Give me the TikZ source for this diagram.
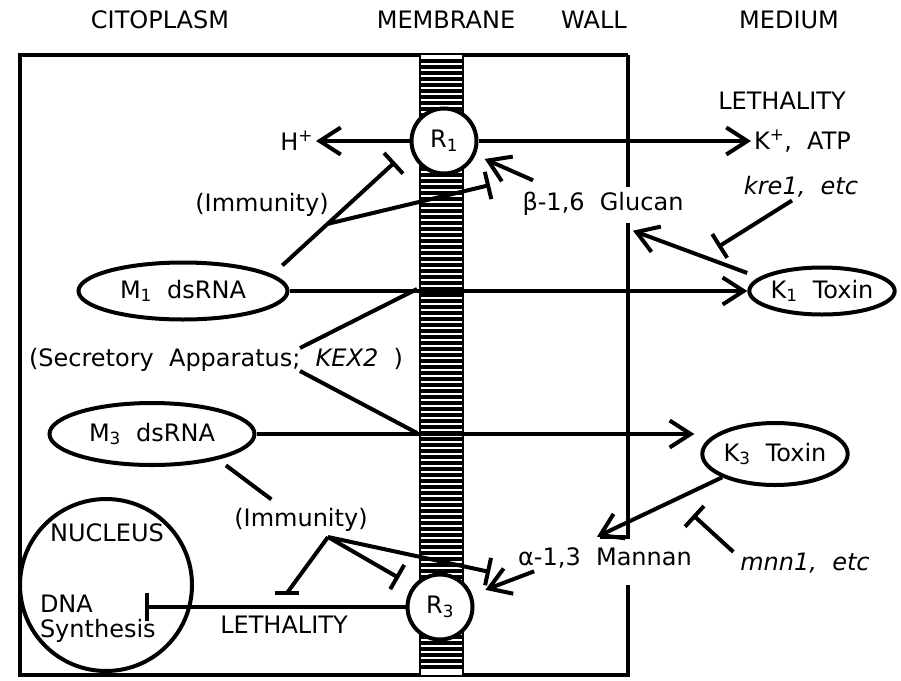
\documentclass[tikz,border=0pt]{standalone}
\usepackage{fontspec}
\setmainfont{DejaVu Sans}
\usetikzlibrary{arrows.meta,calc,positioning,shapes.geometric}

\begin{document}
\begin{tikzpicture}[x=1pt,y=-1pt,line width=4pt,
  every node/.style={font=\fontsize{24}{28}\selectfont,inner sep=1pt},
  arr/.style={-{Straight Barb[length=21pt,width=27pt]}},
  inh/.style={-{Bar[width=28pt]}},
  blob/.style={draw,ellipse,inner sep=0pt},
  recep/.style={draw,circle,fill=white,inner sep=0pt,minimum size=65pt}]
  \useasboundingbox (0,0) rectangle (901,680);
  % cell outline; the wall is broken where the polysaccharides sit
  \draw (628,55) -- (20,55) -- (20,675) -- (628,675) -- (628,585);
  \draw (628,55) -- (628,187);
  \draw (628,223) -- (628,537) -- (600,537);
  % membrane band
  \fill[white] (420,55) rectangle (463,675);
  \foreach \hy in {61,67,...,672} \draw[line width=3.4pt] (420,\hy) -- (463,\hy);
  \draw[line width=2.5pt] (420,55) -- (420,675) (463,55) -- (463,675);
  % headings
  \node (cito) at (160,20) {CITOPLASM};
  \node (memb) at (446,20) {MEMBRANE};
  \node (wall) at (594,20) {WALL};
  \node (medium) at (789,20) {MEDIUM};
  % receptors and labels
  \node[recep] (R1) at (444,141) {R\textsubscript{1}};
  \node[recep] (R3) at (440,607) {R\textsubscript{3}};
  \node[anchor=east] (hplus) at (316,141) {H\textsuperscript{+}};
  \node[anchor=west] (katp) at (751,141) {K\textsuperscript{+},\ \ ATP};
  \node (leth1) at (782,101) {LETHALITY};
  \node (kre) at (801,187) {\itshape kre1,\ \ etc};
  \node (glucan) at (603,204) {β-1,6\ \ Glucan};
  \node (imm1) at (262,205) {(Immunity)};
  \node[blob,minimum width=209pt,minimum height=57pt] (M1) at (183,291) {M\textsubscript{1}\ \ dsRNA};
  \node (secr) at (216,360) {(Secretory\ \ Apparatus;\ \ \textit{KEX2}\ \ )};
  \node[blob,minimum width=205pt,minimum height=62pt] (M3) at (152,434) {M\textsubscript{3}\ \ dsRNA};
  \node[blob,minimum width=141pt,minimum height=47pt] (K1) at (822,291) {K\textsubscript{1}\ \ Toxin};
  \node[blob,minimum width=140pt,minimum height=62pt] (K3) at (775,454) {K\textsubscript{3}\ \ Toxin};
  \node (mannan) at (605,558) {α-1,3\ \ Mannan};
  \node (mnn) at (805,563) {\itshape mnn1,\ \ etc};
  \node (imm2) at (301,520) {(Immunity)};
  \node (leth2) at (284,625) {LETHALITY};
  \node[draw,circle,minimum size=172pt,inner sep=0pt] (nucleus) at (106,585) {};
  \node (nuctext) at (107,533) {NUCLEUS};
  \node[align=left,anchor=west,font=\fontsize{24}{25}\selectfont] (dna) at (37,619) {DNA\\Synthesis};
  % junctions and blocked points
  \coordinate (j1) at (327,224);
  \coordinate (j2) at (328,537);
  \coordinate (r1block) at (395,162);
  \coordinate (glblock) at (490,185);
  \coordinate (k1block) at (718,247);
  \coordinate (mnblock) at (693,515);
  \coordinate (r3block) at (399,578);
  \coordinate (mrblock) at (490,572);
  \coordinate (lethblock) at (287,593);
  \coordinate (dnablock) at (145,607);
  \coordinate (sec1) at (417,289);
  \coordinate (sec2) at (417,433);
  % top half
  \draw[arr] (R1.west) -- (R1.west -| hplus.east);
  \draw[arr] (R1.east) -- (R1.east -| katp.west);
  \draw[arr,shorten >=10pt] ([xshift=-70pt,yshift=9pt]glucan.north) -- (R1);
  \draw[inh] ([xshift=24pt,yshift=4pt]M1.north east) -- (r1block);
  \draw[inh] (j1) -- (glblock);
  \draw[arr] (M1.east) -- (K1.west);
  \draw[arr] ([xshift=-22pt]K1.north west) -- ([xshift=30pt,yshift=-12pt]glucan.south);
  \draw[inh] ([xshift=-9pt]kre.south) -- (k1block);
  % secretion
  \draw ([xshift=84pt,yshift=12pt]secr.center) -- (sec1);
  \draw ([xshift=84pt,yshift=-11pt]secr.center) -- (sec2);
  % bottom half
  \draw[arr,shorten >=6pt] (M3.east) -- (M3.east -| K3.west);
  \draw[arr] (K3.south west) -- ([xshift=-8pt,yshift=8pt]mannan.north);
  \draw[inh] ([xshift=-4pt,yshift=-2pt]mnn.north west) -- (mnblock);
  \draw[arr,shorten >=14pt] ([xshift=19pt]mannan.south west) -- (R3);
  \draw ([yshift=-8pt]M3.south east) -- ([xshift=40pt,yshift=6pt]imm2.north west);
  \draw[inh] (j2) -- (r3block);
  \draw[inh] (j2) -- (mrblock);
  \draw (j2) -- (lethblock);
  \draw ([xshift=-12pt]lethblock) -- ([xshift=12pt]lethblock);
  \draw[inh] (R3.west) -- (dnablock);
\end{tikzpicture}
\end{document}
